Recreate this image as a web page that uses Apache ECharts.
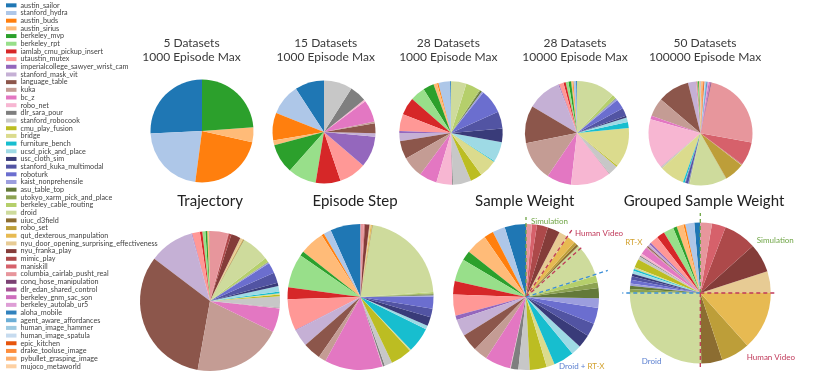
<!DOCTYPE html>
<html>
<head>
<meta charset="utf-8">
<script src="https://cdn.jsdelivr.net/npm/echarts@6/dist/echarts.min.js"></script>
<style>
  html, body { margin: 0; padding: 0; background: #fff; }
  #chart { width: 830px; height: 378px; }
</style>
</head>
<body>
<div id="chart"></div>
<script>
// dataset names, in legend order
const datasets = [
  'austin_sailor', 'stanford_hydra', 'austin_buds', 'austin_sirius', 'berkeley_mvp', 'berkeley_rpt',
  'iamlab_cmu_pickup_insert', 'utaustin_mutex', 'imperialcollege_sawyer_wrist_cam', 'stanford_mask_vit',
  'language_table', 'kuka', 'bc_z', 'robo_net', 'dlr_sara_pour', 'stanford_robocook', 'cmu_play_fusion',
  'bridge', 'furniture_bench', 'ucsd_pick_and_place', 'usc_cloth_sim', 'stanford_kuka_multimodal',
  'roboturk', 'kaist_nonprehensile', 'asu_table_top', 'utokyo_xarm_pick_and_place', 'berkeley_cable_routing',
  'droid', 'uiuc_d3field', 'robo_set', 'qut_dexterous_manpulation', 'nyu_door_opening_surprising_effectiveness',
  'nyu_franka_play', 'mimic_play', 'maniskill', 'columbia_cairlab_pusht_real', 'conq_hose_manipulation',
  'dlr_edan_shared_control', 'berkeley_gnm_sac_son', 'berkeley_autolab_ur5', 'aloha_mobile',
  'agent_aware_affordances', 'human_image_hammer', 'human_image_spatula', 'epic_kitchen',
  'drake_tooluse_image', 'pybullet_grasping_image', 'mujoco_metaworld'
];

// tab20 + tab20b + tab20c (first 8)
const colors = [
  '#1f77b4', '#aec7e8', '#ff7f0e', '#ffbb78', '#2ca02c', '#98df8a', '#d62728', '#ff9896',
  '#9467bd', '#c5b0d5', '#8c564b', '#c49c94', '#e377c2', '#f7b6d2', '#7f7f7f', '#c7c7c7',
  '#bcbd22', '#dbdb8d', '#17becf', '#9edae5',
  '#393b79', '#5254a3', '#6b6ecf', '#9c9ede', '#637939', '#8ca252', '#b5cf6b', '#cedb9c',
  '#8c6d31', '#bd9e39', '#e7ba52', '#e7cb94', '#843c39', '#ad494a', '#d6616b', '#e7969c',
  '#7b4173', '#a55194', '#ce6dbd', '#de9ed6',
  '#3182bd', '#6baed6', '#9ecae1', '#c6dbef', '#e6550d', '#fd8d3c', '#fdae6b', '#fdd0a2'
];

// shares per dataset (same order as datasets)
const mix5 = [93, 80, 85, 17, 86];
const mix15 = [33, 35, 31, 5.5, 33.5, 32, 28, 30.6, 35, 4, 11, 2, 25, 2, 19, 32];
const mix28k1 = [1, 13, 1.5, 4, 12, 16.5, 19.5, 19, 2, 9, 20, 23.8, 19.6, 17.6, 1, 20, 13, 20, 1, 22,
  15, 19, 26.7, 2, 2, 1, 16, 17];
const mix28k10 = [1, 3, 1, 1.5, 3, 3, 2.5, 5, 1, 37.7, 41.5, 44, 27.3, 44.6, 0.5, 10.5, 1.5, 44, 6.5, 5,
  2, 9, 11, 2, 0.5, 0.5, 4, 43];
const mix50 = [0.5, 0.5, 0.3, 0.5, 1, 1, 0.5, 0.5, 0.3, 9, 36, 21, 4, 56.7, 0.3, 1.5, 0.3, 28, 2, 0.5,
  0.5, 3, 0.5, 0.3, 0.3, 0.3, 0.3, 42, 0.3, 22.5, 0.3, 0.3, 0.3, 0.3, 26.6, 89,
  0.8, 0.8, 1.5, 1.5, 1, 0.8, 0.8, 0.8, 1, 1, 1.5, 0.8];
const trajectory = [0.3, 0.3, 0.5, 1.2, 1.5, 2.5, 2, 6.5, 0.5, 37, 116, 73.5, 19.8, 0.3, 0.5, 9, 1.5, 1,
  1.5, 4.4, 2.7, 8.7, 8.7, 1, 0.3, 0.3, 3.4, 23, 0.5, 0.5, 0.5, 2, 7.7, 2.2, 0.5, 15];
const episodeStep = [24, 6, 2, 19.5, 3.5, 27, 9.3, 25, 0.5, 13.6, 14.2, 6, 46, 0.5, 1.5, 6, 17, 1, 20, 3,
  7, 7, 9.5, 1, 0.8, 0.8, 1, 76, 0.3, 0.3, 1, 1, 3.5, 0.5, 0.5, 2.5];
const sampleWeight = [17, 10, 7.6, 17, 7.8, 18, 10.6, 17, 3.4, 13.5, 13.8, 11.3, 20.5, 0.5, 6, 9, 13.6, 6.5,
  16.4, 8, 10.5, 10.5, 13, 7.6, 8, 4.7, 5.5, 27, 2, 2.3, 6.8, 7.4, 9.8, 8.8, 4.1, 4.6];
const groupedWeight = [4.9, 7.5, 1.5, 5.7, 3, 8.4, 6.6, 7, 1.5, 2, 1, 1, 6, 2, 1, 2.5, 7, 1.5, 1.5, 2.5,
  2, 3, 3, 2, 2.5, 2.5, 1.5, 90, 17.4, 23.6, 48, 18, 24, 27, 11.4, 9.6];

const topTitles = ['5 Datasets\n1000 Episode Max', '15 Datasets\n1000 Episode Max', '28 Datasets\n1000 Episode Max',
  '28 Datasets\n10000 Episode Max', '50 Datasets\n100000 Episode Max'];
const bottomTitles = ['Trajectory', 'Episode Step', 'Sample Weight', 'Grouped Sample Weight'];

// annotation rays: [angle in degrees, length]
const sampleRays = [[90, 80, 'green'], [55.6, 82, 'red'], [41.7, 77, 'red'], [18, 86, 'blue']];
const groupedRays = [[90, 80, 'green'], [180, 78, 'blue'], [0, 75, 'red'], [270, 74, 'red']];

const annColors = { green: '#6fa545', red: '#c0395a', blue: '#3b8ed8', gold: '#d2a12e', droid: '#5a7fd0' };

const pies = [
  { vals: mix5, c: [202, 131], r: 51.5 },
  { vals: mix15, c: [324, 132], r: 51.5 },
  { vals: mix28k1, c: [451, 133], r: 51.7 },
  { vals: mix28k10, c: [577, 133], r: 52 },
  { vals: mix50, c: [700.5, 133.3], r: 52 },
  { vals: trajectory, c: [210, 301], r: 70 },
  { vals: episodeStep, c: [360.5, 297], r: 73 },
  { vals: sampleWeight, c: [526, 297], r: 73 },
  { vals: groupedWeight, c: [700.3, 293], r: 70.5 }
];

function pieData(vals) {
  const out = [];
  vals.forEach((v, i) => {
    if (v > 0) out.push({ name: datasets[i], value: v, itemStyle: { color: colors[i] } });
  });
  return out;
}

const series = pies.map(p => ({
  type: 'pie',
  center: p.c,
  radius: p.r,
  startAngle: 90,
  clockwise: false,
  label: { show: false },
  labelLine: { show: false },
  emphasis: { disabled: true },
  itemStyle: { borderWidth: 0 },
  data: pieData(p.vals)
}));

const topX = [191.5, 325.7, 448.3, 575, 705];
const bottomX = [210, 355, 524.7, 704];
const titles = [];
topTitles.forEach((t, i) => titles.push({
  text: t, left: topX[i], top: 36.3, textAlign: 'center', padding: 0,
  textStyle: { fontFamily: 'Lato', fontSize: 12, fontWeight: 'normal', color: '#3a3a3a', lineHeight: 14 }
}));
bottomTitles.forEach((t, i) => titles.push({
  text: t, left: bottomX[i], top: 191.5, textAlign: 'center', padding: 0,
  textStyle: { fontFamily: 'Lato', fontSize: 15, fontWeight: 'normal', color: '#222', lineHeight: 20 }
}));

function ray(c, a, len, col) {
  const rad = a * Math.PI / 180;
  return {
    type: 'line', z: 100,
    shape: { x1: c[0], y1: c[1], x2: c[0] + len * Math.cos(rad), y2: c[1] - len * Math.sin(rad) },
    style: { stroke: annColors[col], lineWidth: 1.3, lineDash: [4, 3] }
  };
}
function note(c, dx, dy, text, col) {
  return {
    type: 'text', z: 101, x: c[0] + dx, y: c[1] + dy,
    style: { text: text, fill: annColors[col], font: '8px Lato', verticalAlign: 'middle' }
  };
}

const sw = pies[7].c, gw = pies[8].c;
const graphic = [];
sampleRays.forEach(r => graphic.push(ray(sw, r[0], r[1], r[2])));
groupedRays.forEach(r => graphic.push(ray(gw, r[0], r[1], r[2])));
graphic.push(note(sw, 5, -76, 'Simulation', 'green'));
graphic.push(note(sw, 49, -64, 'Human Video', 'red'));
graphic.push({
  type: 'text', z: 101, x: sw[0] + 33, y: sw[1] + 69,
  style: {
    text: '{a|Droid +} {b|RT-X}', font: '8px Lato', verticalAlign: 'middle',
    rich: { a: { fill: annColors.droid, font: '8px Lato' }, b: { fill: annColors.gold, font: '8px Lato' } }
  }
});
graphic.push(note(gw, -75, -51, 'RT-X', 'gold'));
graphic.push(note(gw, 56.5, -52.5, 'Simulation', 'green'));
graphic.push(note(gw, 46.5, 64, 'Human Video', 'red'));
graphic.push(note(gw, -58.5, 68.5, 'Droid', 'droid'));

const chart = echarts.init(document.getElementById('chart'), null, { renderer: 'canvas' });
chart.setOption({
  animation: false,
  backgroundColor: '#fff',
  title: titles,
  legend: {
    data: datasets,
    orient: 'vertical',
    left: 6,
    top: 1.5,
    padding: 0,
    itemGap: 0,
    itemWidth: 10.5,
    itemHeight: 4,
    icon: 'rect',
    selectedMode: false,
    textStyle: { fontFamily: 'Lato', fontSize: 7.2, color: '#444', lineHeight: 7.68, padding: [0, 0, 0, -1] }
  },
  graphic: graphic,
  series: series
});
</script>
</body>
</html>
